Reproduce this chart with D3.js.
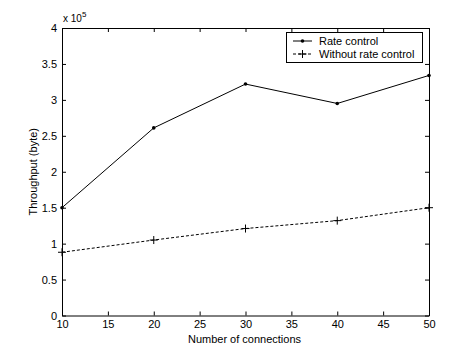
<!DOCTYPE html>
<html>
<head>
<meta charset="utf-8">
<script src="https://cdn.jsdelivr.net/npm/d3@7"></script>
<style>
html,body{margin:0;padding:0;background:#fff;}
svg{display:block;}
text{font-family:"Liberation Sans",Arial,sans-serif;fill:#000;}
</style>
</head>
<body>
<svg id="chart" width="474" height="355"></svg>
<script>
const connections = [10, 20, 30, 40, 50];
const rateControl = [1.50, 2.61, 3.22, 2.95, 3.34];
const withoutRateControl = [0.88, 1.05, 1.21, 1.32, 1.50];
const xTicks = [10, 15, 20, 25, 30, 35, 40, 45, 50];
const yTicks = [0, 0.5, 1, 1.5, 2, 2.5, 3, 3.5, 4];
const seriesNames = ["Rate control", "Without rate control"];

(function () {
const svg = d3.select("#chart");
const L = 62, R = 429, T = 28, B = 315.5;
const x = d3.scaleLinear().domain([10, 50]).range([L, R]);
const y = d3.scaleLinear().domain([0, 4]).range([B, T]);
const fs = 11;

const g = svg.append("g");

const fmt = d => String(d);
const axB = g.append("g").attr("transform", `translate(0,${B})`)
  .call(d3.axisBottom(x).tickValues(xTicks).tickFormat(fmt).tickSizeInner(-4).tickSizeOuter(0).tickPadding(5));
const axT = g.append("g").attr("transform", `translate(0,${T})`)
  .call(d3.axisTop(x).tickValues(xTicks).tickFormat("").tickSizeInner(-4).tickSizeOuter(0));
const axL = g.append("g").attr("transform", `translate(${L},0)`)
  .call(d3.axisLeft(y).tickValues(yTicks).tickFormat(fmt).tickSizeInner(-4).tickSizeOuter(0).tickPadding(5));
const axR = g.append("g").attr("transform", `translate(${R},0)`)
  .call(d3.axisRight(y).tickValues(yTicks).tickFormat("").tickSizeInner(-4).tickSizeOuter(0));
[axB, axT, axL, axR].forEach(a => {
  a.selectAll("path").attr("stroke", "#000").attr("stroke-width", 1);
  a.selectAll("line").attr("stroke", "#000").attr("stroke-width", 1);
  a.selectAll("text").style("font-size", fs + "px").attr("font-family", "Liberation Sans, Arial, sans-serif");
});

const ex = g.append("text").attr("x", L + 1).attr("y", 22).style("font-size", "10px");
ex.append("tspan").text("x 10");
ex.append("tspan").attr("dy", -5).style("font-size", "8px").text("5");

g.append("text").attr("x", (L + R) / 2 - 1).attr("y", 343).attr("text-anchor", "middle")
  .style("font-size", fs + "px").text("Number of connections");
g.append("text").attr("transform", `translate(37,${(T + B) / 2}) rotate(-90)`).attr("text-anchor", "middle")
  .style("font-size", fs + "px").text("Throughput (byte)");

const line = d3.line().x((d, i) => x(connections[i])).y(d => y(d));
g.append("path").datum(rateControl).attr("d", line).attr("fill", "none").attr("stroke", "#000").attr("stroke-width", 1);
g.append("path").datum(withoutRateControl).attr("d", line).attr("fill", "none").attr("stroke", "#000")
  .attr("stroke-width", 1).attr("stroke-dasharray", "3,2");

g.selectAll(".dot").data(rateControl).enter().append("circle")
  .attr("cx", (d, i) => x(connections[i])).attr("cy", d => y(d)).attr("r", 1.8).attr("fill", "#000");
const plus = (sel, cx, cy, s) => {
  sel.append("path").attr("d", `M${cx - s},${cy}H${cx + s}M${cx},${cy - s}V${cy + s}`)
    .attr("stroke", "#000").attr("stroke-width", 1).attr("fill", "none");
};
withoutRateControl.forEach((d, i) => plus(g, x(connections[i]), y(d), 4));

const lg = g.append("g");
lg.append("rect").attr("x", 286.5).attr("y", 32.5).attr("width", 136).attr("height", 30)
  .attr("fill", "#fff").attr("stroke", "#000").attr("stroke-width", 1);
lg.append("line").attr("x1", 293).attr("x2", 312).attr("y1", 41).attr("y2", 41).attr("stroke", "#000");
lg.append("circle").attr("cx", 302.5).attr("cy", 41).attr("r", 1.8).attr("fill", "#000");
lg.append("line").attr("x1", 293).attr("x2", 312).attr("y1", 54).attr("y2", 54).attr("stroke", "#000").attr("stroke-dasharray", "3,2");
plus(lg, 302.5, 54, 4);
lg.append("text").attr("x", 319).attr("y", 45).style("font-size", fs + "px").text(seriesNames[0]);
lg.append("text").attr("x", 319).attr("y", 58).style("font-size", fs + "px").text(seriesNames[1]);
})();
</script>
</body>
</html>
